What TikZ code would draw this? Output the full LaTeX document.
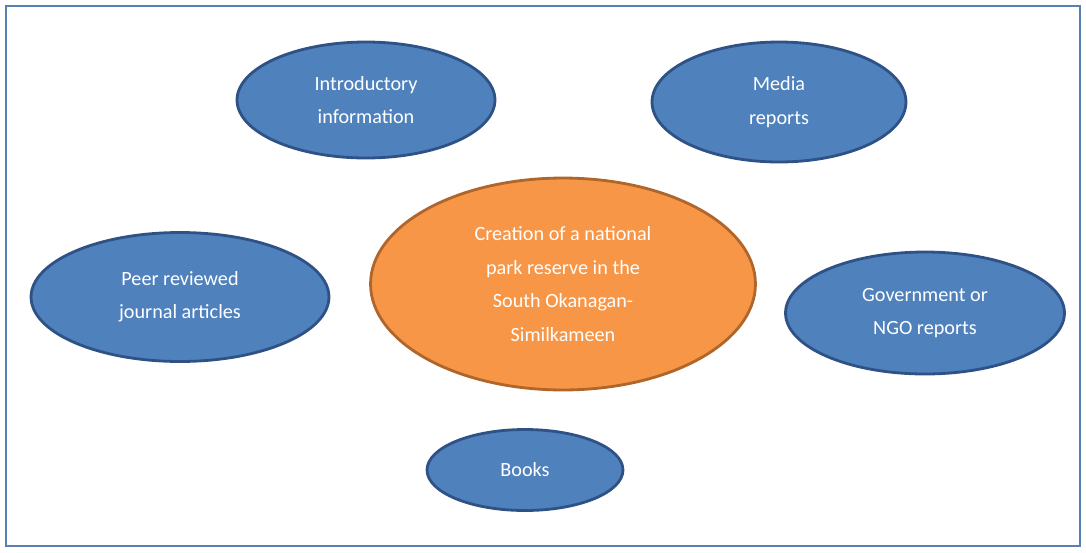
\documentclass[tikz,border=0pt]{standalone}
\usepackage{fontspec}
\setmainfont{Carlito}
\usetikzlibrary{positioning,shapes.geometric}
\definecolor{bubbleblue}{HTML}{4F81BD}
\definecolor{bubbleedge}{HTML}{2F5286}
\definecolor{coreorange}{HTML}{F79646}
\definecolor{coreedge}{HTML}{B0652A}
\definecolor{frameblue}{HTML}{5A7FB5}
\begin{document}
\begin{tikzpicture}[x=0.02cm, y=-0.02cm,
      bubble/.style={ellipse, draw=bubbleedge, line width=1.6pt, fill=bubbleblue,
        text=white, align=center, inner sep=0pt,
        font=\fontsize{11.5}{19}\selectfont},
      core/.style={bubble, fill=coreorange, draw=coreedge}]
  %.
  \draw[frameblue, line width=0.8pt] (6,6) rectangle (1080,546);
  \useasboundingbox (0,0) rectangle (1086,552);
  \node[core, minimum width=7.7cm, minimum height=4.24cm] (park) at (563,284)
    {Creation of a national\\park reserve in the\\South Okanagan-\\Similkameen};
  \node[bubble, minimum width=5.16cm, minimum height=2.32cm] (intro) at (366,100)
    {Introductory\\information};
  \node[bubble, minimum width=5.08cm, minimum height=2.4cm] (media) at (779,102)
    {Media\\reports};
  \node[bubble, minimum width=5.96cm, minimum height=2.58cm] (peer) at (180,297)
    {Peer reviewed\\journal articles};
  \node[bubble, minimum width=5.58cm, minimum height=2.44cm] (gov) at (925,313)
    {Government or\\NGO reports};
  \node[bubble, minimum width=3.92cm, minimum height=1.62cm] (books) at (525,470)
    {Books};
  %.
\end{tikzpicture}
\end{document}
